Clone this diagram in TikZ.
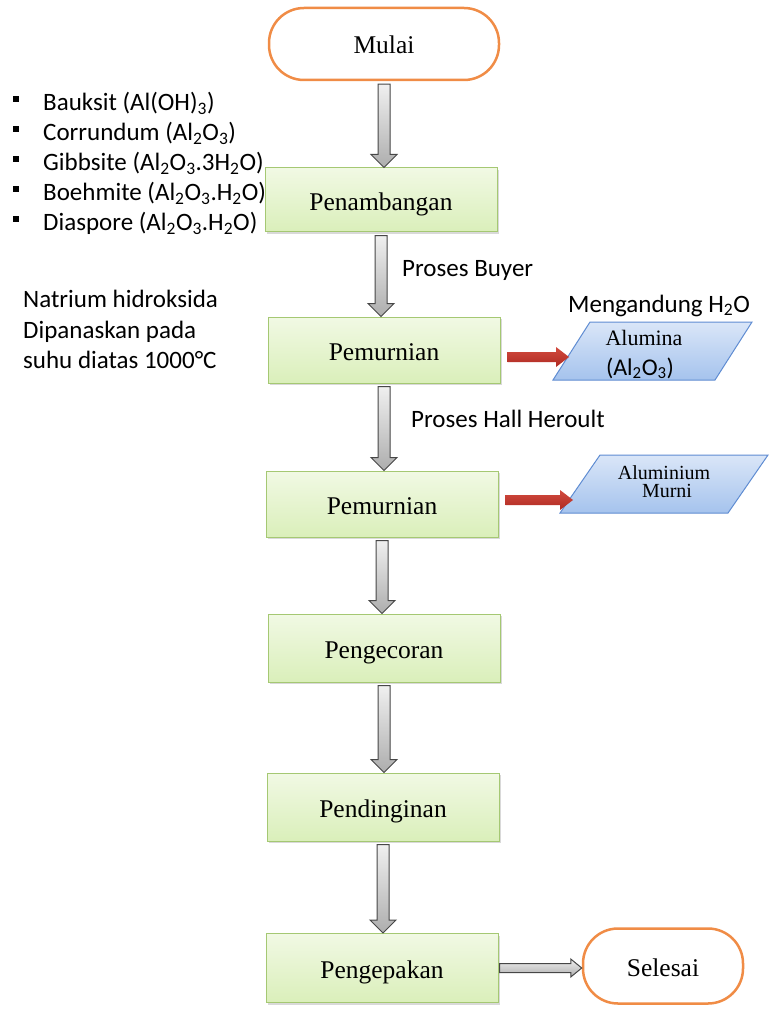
\documentclass[tikz,border=0pt]{standalone}
\usepackage{fontspec}
\setmainfont{Liberation Serif}
\newfontfamily\calib{Carlito}
\usetikzlibrary{shadows,calc}
\definecolor{grBorder}{RGB}{165,200,115}
\definecolor{grTop}{RGB}{241,249,228}
\definecolor{grBot}{RGB}{218,239,186}
\definecolor{orng}{RGB}{240,140,70}
\definecolor{bluBorder}{RGB}{95,140,210}
\definecolor{bluTop}{RGB}{218,230,248}
\definecolor{bluBot}{RGB}{165,195,237}
\definecolor{redTop}{RGB}{210,75,62}
\definecolor{redBot}{RGB}{175,42,35}
\tikzset{
  proc/.style={draw=grBorder, line width=1pt, top color=grTop, bottom color=grBot,
    minimum width=232pt, minimum height=66pt, inner sep=0pt,
    text height=21pt, text depth=0pt, font=\fontsize{25.5}{30}\selectfont,
    drop shadow={shadow xshift=2pt, shadow yshift=-2pt, opacity=0.3}},
  term/.style={draw=orng, line width=2.5pt, fill=white, rounded corners=35pt,
    inner sep=0pt, text height=20pt, text depth=0pt, font=\fontsize{25.5}{30}\selectfont},
  lbl/.style={font=\calib\fontsize{25}{30}\selectfont, anchor=base west, inner sep=0pt},
  ptxt/.style={font=\fontsize{20}{24}\selectfont, anchor=base, inner sep=0pt},
  garrow/.style={draw=black!72, line width=1pt, top color=black!6, bottom color=black!32},
  rarrow/.style={top color=redTop, bottom color=redBot, draw=none},
  para/.style={draw=bluBorder, line width=1pt, top color=bluTop, bottom color=bluBot},
  bul/.style={fill=black, minimum size=6pt, inner sep=0pt},
}
\newcommand\garrowV[2]{\path[garrow] let \p1=(#1.south), \p2=(#2.north) in
  (\x1-6pt,\y1-3pt) -- (\x1+6pt,\y1-3pt) -- (\x1+6pt,\y2+13pt) -- (\x1+13pt,\y2+13pt)
  -- (\x1,\y2) -- (\x1-13pt,\y2+13pt) -- (\x1-6pt,\y2+13pt) -- cycle;}
\newcommand\redarr[2]{\path[rarrow] let \p1=(#1), \p2=(#2) in
  (\x1+7pt,\y2+5pt) -- (\x2-13pt,\y2+5pt) -- (\x2-13pt,\y2+10pt) -- (\x2,\y2)
  -- (\x2-13pt,\y2-10pt) -- (\x2-13pt,\y2-5pt) -- (\x1+7pt,\y2-5pt) -- cycle;}
\begin{document}
\begin{tikzpicture}[x=1pt,y=-1pt]
\useasboundingbox (0,0) rectangle (768,1024);
% terminators
\node[term, minimum width=230pt, minimum height=72pt] (mulai) at (384,44) {Mulai};
\node[term, minimum width=160pt, minimum height=75pt] (selesai) at (663,966) {Selesai};
% process boxes
\node[proc, minimum height=64pt] (tambang) at (381,200) {Penambangan};
\node[proc] (murni1) at (384,350) {Pemurnian};
\node[proc] (murni2) at (382,504) {Pemurnian};
\node[proc, minimum height=68pt] (cor) at (384,648) {Pengecoran};
\node[proc, minimum height=68pt] (dingin) at (383,807) {Pendinginan};
\node[proc, minimum height=69pt] (kemas) at (382,968) {Pengepakan};
% parallelograms
\draw[para] (553,380) -- (590,322) -- (752,322) -- (715,380) -- cycle;
\draw[para] (560,513) -- (600,455) -- (768,455) -- (728,513) -- cycle;
\coordinate (aluin) at (569,357);
\coordinate (murin) at (573,500);
\node[ptxt, font=\fontsize{22}{26}\selectfont] (alu1) at (644,345) {Alumina};
\node[lbl, anchor=base, font=\calib\fontsize{24}{28}\selectfont] (alu2) at (640,375) {(Al\textsubscript{2}O\textsubscript{3})};
\node[ptxt] (mur1) at (664,479) {Aluminium};
\node[ptxt] (mur2) at (667,497) {Murni};
% arrows
\garrowV{mulai}{tambang}
\garrowV{tambang}{murni1}
\garrowV{murni1}{murni2}
\garrowV{murni2}{cor}
\garrowV{cor}{dingin}
\garrowV{dingin}{kemas}
\path[garrow] let \p1=(kemas.east), \p2=(selesai.west) in
  (\x1+1pt,\y1+4.5pt) -- (\x2-11pt,\y1+4.5pt) -- (\x2-11pt,\y1+9pt) -- (\x2,\y1)
  -- (\x2-11pt,\y1-9pt) -- (\x2-11pt,\y1-4.5pt) -- (\x1+1pt,\y1-4.5pt) -- cycle;
\redarr{murni1.east}{aluin}
\redarr{murni2.east}{murin}
% labels
\node[lbl] (buyer) at (402,276) {Proses Buyer};
\node[lbl] (hall) at (411,427) {Proses Hall Heroult};
\node[lbl] (h2o) at (568,312) {Mengandung H\textsubscript{2}O};
\node[lbl] (na1) at (23,307) {Natrium hidroksida};
\node[lbl] (na2) at (23,338) {Dipanaskan pada};
\node[lbl] (na3) at (23,368) {suhu diatas 1000°C};
% bullet list
\node[bul] (b1) at (16,99) {};
\node[bul] (b2) at (16,129) {};
\node[bul] (b3) at (16,159) {};
\node[bul] (b4) at (16,189) {};
\node[bul] (b5) at (16,219) {};
\node[lbl] (m1) at (43,111) {Bauksit (Al(OH)\textsubscript{3})};
\node[lbl] (m2) at (43,141) {Corrundum (Al\textsubscript{2}O\textsubscript{3})};
\node[lbl] (m3) at (43,171) {Gibbsite (Al\textsubscript{2}O\textsubscript{3}.3H\textsubscript{2}O)};
\node[lbl] (m4) at (43,201) {Boehmite (Al\textsubscript{2}O\textsubscript{3}.H\textsubscript{2}O)};
\node[lbl] (m5) at (43,231) {Diaspore (Al\textsubscript{2}O\textsubscript{3}.H\textsubscript{2}O)};
\end{tikzpicture}
\end{document}
